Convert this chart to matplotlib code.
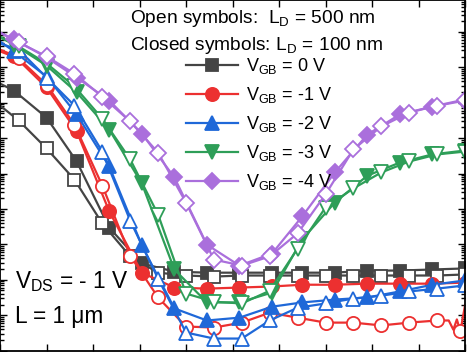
import numpy as np
import matplotlib.pyplot as plt
from matplotlib.ticker import LogLocator, MultipleLocator, NullFormatter

plt.rcParams['font.family'] = ['Liberation Sans', 'DejaVu Sans']
plt.rcParams['mathtext.default'] = 'regular'

# gate voltage (V); closed symbols: L_D = 100 nm, open symbols: L_D = 500 nm
vg_closed = [-1.00, -0.94, -0.80, -0.67, -0.53, -0.39, -0.25, -0.11, 0.03, 0.17,
             0.30, 0.44, 0.58, 0.72, 0.86, 1.00]
vg_open = [-1.00, -0.92, -0.80, -0.68, -0.56, -0.44, -0.32, -0.20, -0.08, 0.04,
           0.16, 0.28, 0.40, 0.52, 0.64, 0.76, 0.88, 1.00]
vg_open_m1 = [-1.00, -0.92, -0.80, -0.68, -0.56, -0.44, -0.32, -0.20, -0.08, 0.04,
              0.16, 0.28, 0.40, 0.52, 0.64, 0.76, 0.88, 0.93, 0.95, 0.965, 0.98, 1.00]

# log10 of drain current (A)
logi_0_closed = [-6.46, -6.66, -7.42, -8.66, -10.53, -11.54, -11.77, -11.80, -11.80, -11.80,
                 -11.80, -11.80, -11.74, -11.74, -11.71, -11.68]
logi_0_open = [-7.08, -7.50, -8.29, -9.17, -10.41, -11.34, -11.80, -11.88, -11.91, -11.88,
               -11.88, -11.88, -11.88, -11.88, -11.88, -11.88, -11.88, -11.85]
logi_1_closed = [-5.50, -5.67, -6.57, -7.81, -10.07, -11.80, -12.22, -12.25, -12.22, -12.19,
                 -12.14, -12.14, -12.11, -12.11, -12.11, -12.08]
logi_1_open = [-5.55, -5.75, -6.49, -7.62, -9.34, -11.32, -12.50, -13.32, -13.35, -13.21,
               -12.93, -13.07, -13.21, -13.21, -13.29, -13.21, -13.15, -13.15, -13.41, -13.12,
               -13.46, -12.73]
logi_2_closed = [-5.27, -5.55, -6.26, -7.33, -8.80, -11.03, -12.81, -13.15, -13.07, -12.76,
                 -12.64, -12.56, -12.50, -12.33, -12.14, -12.02]
logi_2_open = [-5.33, -5.50, -6.29, -7.08, -8.38, -10.33, -11.97, -13.49, -13.66, -13.66,
               -13.15, -12.79, -12.67, -12.53, -12.45, -12.33, -12.25, -12.16]
logi_3_closed = [-5.13, -5.36, -5.95, -6.71, -7.76, -9.28, -11.71, -12.64, -12.64, -12.36,
                 -10.86, -9.82, -9.06, -8.69, -8.46, -8.35]
logi_3_open = [-5.16, -5.41, -5.89, -6.54, -7.45, -8.60, -10.16, -12.39, -12.62, -12.67,
               -12.31, -11.12, -9.96, -9.42, -8.97, -8.66, -8.46, -8.38]
logi_4_closed = [-5.02, -5.21, -5.72, -6.29, -6.94, -7.87, -9.11, -11.01, -11.60, -11.26,
                 -10.21, -8.97, -7.90, -7.33, -7.11, -6.94]
logi_4_open = [-5.02, -5.30, -5.69, -6.18, -6.83, -7.53, -8.41, -9.82, -11.43, -11.60,
               -11.34, -10.69, -9.59, -8.32, -7.67, -7.28, -7.08, -6.91]

labels = ['V$_{GB}$ = 0 V', 'V$_{GB}$ = -1 V', 'V$_{GB}$ = -2 V',
          'V$_{GB}$ = -3 V', 'V$_{GB}$ = -4 V']
colors = ['#444444', '#ec3030', '#1f68d8', '#2e9e58', '#aa6fdc']
markers = ['s', 'o', '^', 'v', 'D']
msizes = [8.5, 9.5, 10, 10, 8.5]

closed = [(vg_closed, logi_0_closed), (vg_closed, logi_1_closed), (vg_closed, logi_2_closed),
          (vg_closed, logi_3_closed), (vg_closed, logi_4_closed)]
opened = [(vg_open, logi_0_open), (vg_open_m1, logi_1_open), (vg_open, logi_2_open),
          (vg_open, logi_3_open), (vg_open, logi_4_open)]

fig = plt.figure(figsize=(4.74, 3.52), dpi=100)
ax = fig.add_axes([0.0, 0.004, 465 / 474, 0.996])

handles = []
for i in range(5):
    x, y = closed[i]
    h, = ax.plot(x, np.power(10.0, y), color=colors[i], lw=1.6, marker=markers[i],
                 ms=msizes[i], mfc=colors[i], mec=colors[i], mew=1.3,
                 markevery=list(range(1, len(x))), zorder=2 + i * 0.1)
    handles.append(h)
    x, y = opened[i]
    mk = list(range(1, 17)) + ([20] if len(x) > 18 else [17])
    ax.plot(x, np.power(10.0, y), color=colors[i], lw=1.6, marker=markers[i],
            ms=msizes[i], mfc='white', mec=colors[i], mew=1.3,
            markevery=mk, zorder=2.05 + i * 0.1)

ax.set_yscale('log')
ax.set_xlim(-1.0, 1.0)
ax.set_ylim(1e-14, 10 ** -4.1)
ax.xaxis.set_major_locator(MultipleLocator(0.2))
ax.yaxis.set_major_locator(LogLocator(base=10, numticks=20))
ax.yaxis.set_minor_locator(LogLocator(base=10, subs=np.arange(2, 10), numticks=20))
ax.yaxis.set_minor_formatter(NullFormatter())
ax.tick_params(which='both', direction='in', top=True, right=True,
               labelbottom=False, labelleft=False, width=1)
ax.tick_params(which='major', length=5)
ax.tick_params(which='minor', length=3)
for s in ax.spines.values():
    s.set_linewidth(1.3)

ax.legend(handles, labels, loc='upper left', bbox_to_anchor=(186 / 465, 1 - 56 / 350.5),
          frameon=False, fontsize=13, handlelength=2.9, handletextpad=0.4,
          labelspacing=0.5, borderpad=0, borderaxespad=0)

ax.text(130 / 465, 1 - 23 / 350.5, 'Open symbols:  L$_D$ = 500 nm', transform=ax.transAxes,
        fontsize=13.8, va='baseline', ha='left')
ax.text(130 / 465, 1 - 50 / 350.5, 'Closed symbols: L$_D$ = 100 nm', transform=ax.transAxes,
        fontsize=13.8, va='baseline', ha='left')
ax.text(15 / 465, 1 - 288 / 350.5, 'V$_{DS}$ = - 1 V', transform=ax.transAxes,
        fontsize=16.3, va='baseline', ha='left')
ax.text(15 / 465, 1 - 323 / 350.5, 'L = 1 \u03bcm', transform=ax.transAxes,
        fontsize=16.3, va='baseline', ha='left')

fig.savefig('out.png', dpi=100)
